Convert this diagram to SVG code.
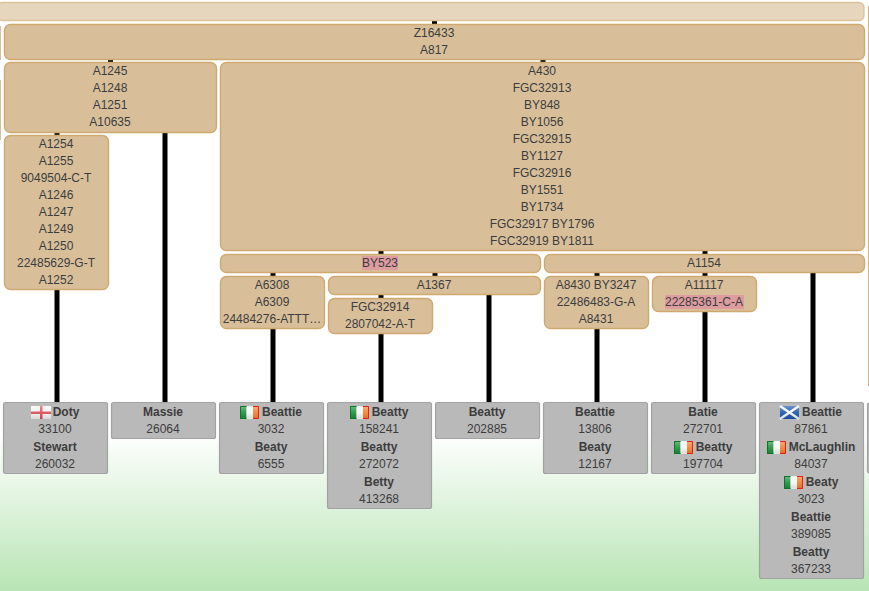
<svg xmlns="http://www.w3.org/2000/svg" width="869" height="591" viewBox="0 0 869 591">
<style>
text{font-family:"Liberation Sans",Arial,sans-serif;font-size:12px;fill:#3d3d3d;text-anchor:middle}
.b{font-weight:bold}
.t{fill:#d8bf9a;stroke:#cfa96f;stroke-width:1.4}
.f{fill:#e6d6bd;stroke:#dcc39c;stroke-width:1.4}
.g{fill:#b9b9b9;stroke:#a2a2a2;stroke-width:1.2}
.h{fill:#dc9ca0}
.c{stroke:#000;fill:none}
.c5{stroke-width:5}
</style>
<defs>
<linearGradient id="bg" x1="0" y1="0" x2="0" y2="1"><stop offset="0" stop-color="#fff"/><stop offset="1" stop-color="#b8e5b4"/></linearGradient>
<linearGradient id="gl" x1="0" y1="0" x2="0" y2="1"><stop offset="0" stop-color="#fff" stop-opacity=".35"/><stop offset=".5" stop-color="#fff" stop-opacity=".1"/><stop offset="1" stop-color="#000" stop-opacity=".12"/></linearGradient>
<g id="ie"><rect x="0" y="0" width="6.5" height="13" fill="#1c8f3c"/><rect x="6.5" y="0" width="6.5" height="13" fill="#f6f6f6"/><rect x="13" y="0" width="6" height="13" fill="#f47f2c"/><rect x=".5" y=".5" width="18" height="12" fill="url(#gl)" stroke="none"/><path d="M.5 .5H6.5M.5 12.5H6.5M.5 .5V12.5" stroke="#0a7a22" fill="none"/><path d="M13 .5H18.500V12.500H13" stroke="#ee1c0c" fill="none"/></g>
<g id="en"><rect width="20" height="13" fill="#f4f2f2"/><rect x="9" width="2.500" height="13" fill="#dc4c52"/><rect y="5.500" width="20" height="2.500" fill="#dc4c52"/><rect width="20" height="13" fill="url(#gl)"/></g>
<g id="sc"><rect width="19" height="13" fill="#1b56ad"/><path d="M0 0L19 13M19 0L0 13" stroke="#f2f5fb" stroke-width="2.500"/><rect width="19" height="13" fill="url(#gl)"/></g>
</defs>
<rect x="0" y="0" width="869" height="591" fill="#fff"/>
<rect x="0" y="432" width="869" height="159" fill="url(#bg)"/>

<g id="connectors" class="c c5">
<path d="M434.500 20V25M110.500 60V63M543 60V63M57 132V136M381 250V255M705 250V255M273 272V277M435 272V277M597 272V277M705 272V277M381 294V299"/>
<path d="M165 132V403M57 289V403M273 328V403M381 333V403M489 294V403M597 328V403M705 311V403M813 272V403"/>
</g>

<g id="edge-left"><path d="M0 26H1V60H0ZM0 80H1V140H0Z" fill="#d8bf9a"/></g>
<g id="edge-right"><path d="M868 6H869V386H868Z" fill="#d8b580"/></g>
<g id="edge-grey"><rect x="867.500" y="403" width="6" height="70" rx="2" class="g"/></g>

<g id="n-top"><rect class="f" x="-3" y="2.500" width="867" height="18" rx="5"/></g>
<g id="n-z16433"><rect class="t" x="4.500" y="24.500" width="860" height="35" rx="6"/><text x="434" y="37">Z16433</text><text x="434" y="54">A817</text></g>
<g id="n-a1245"><rect class="t" x="4.500" y="62.500" width="212" height="70" rx="6"/><text x="110" y="75">A1245</text><text x="110" y="92">A1248</text><text x="110" y="109">A1251</text><text x="110" y="126">A10635</text></g>
<g id="n-a430"><rect class="t" x="220.500" y="62.500" width="644" height="188" rx="6"/>
<text x="542" y="75">A430</text><text x="542" y="92">FGC32913</text><text x="542" y="109">BY848</text><text x="542" y="126">BY1056</text><text x="542" y="143">FGC32915</text><text x="542" y="160">BY1127</text><text x="542" y="177">FGC32916</text><text x="542" y="194">BY1551</text><text x="542" y="211">BY1734</text><text x="542" y="228">FGC32917 BY1796</text><text x="542" y="245">FGC32919 BY1811</text></g>
<g id="n-a1254"><rect class="t" x="4.500" y="135.500" width="104" height="154" rx="6"/>
<text x="56" y="148">A1254</text><text x="56" y="165">A1255</text><text x="56" y="182">9049504-C-T</text><text x="56" y="199">A1246</text><text x="56" y="216">A1247</text><text x="56" y="233">A1249</text><text x="56" y="250">A1250</text><text x="56" y="267">22485629-G-T</text><text x="56" y="284">A1252</text></g>
<g id="n-by523"><rect class="t" x="220.500" y="254.500" width="320" height="18" rx="6"/><rect class="h" x="362" y="256" width="36" height="14"/><text x="380" y="267">BY523</text></g>
<g id="n-a1154"><rect class="t" x="544.500" y="254.500" width="320" height="18" rx="6"/><text x="704" y="267">A1154</text></g>
<g id="n-a6308"><rect class="t" x="220.500" y="276.500" width="104" height="52" rx="6"/><text x="272" y="289">A6308</text><text x="272" y="306">A6309</text><text x="272" y="323">24484276-ATTT…</text></g>
<g id="n-a1367"><rect class="t" x="328.500" y="276.500" width="212" height="18" rx="6"/><text x="434" y="289">A1367</text></g>
<g id="n-fgc32914"><rect class="t" x="328.500" y="298.500" width="104" height="35" rx="6"/><text x="380" y="311">FGC32914</text><text x="380" y="328">2807042-A-T</text></g>
<g id="n-a8430"><rect class="t" x="544.500" y="276.500" width="104" height="52" rx="6"/><text x="596" y="289">A8430 BY3247</text><text x="596" y="306">22486483-G-A</text><text x="596" y="323">A8431</text></g>
<g id="n-a11117"><rect class="t" x="652.500" y="276.500" width="104" height="35" rx="6"/><rect class="h" x="665" y="295" width="79" height="14"/><text x="704" y="289">A11117</text><text x="704" y="306">22285361-C-A</text></g>

<g id="l-1"><rect class="g" x="3.500" y="402.500" width="104" height="71" rx="2"/><use href="#en" x="31" y="406"/><text class="b" x="66" y="416">Doty</text><text x="55" y="433">33100</text><text class="b" x="55" y="451">Stewart</text><text x="55" y="468">260032</text></g>
<g id="l-2"><rect class="g" x="111.500" y="402.500" width="104" height="36" rx="2"/><text class="b" x="163" y="416">Massie</text><text x="163" y="433">26064</text></g>
<g id="l-3"><rect class="g" x="219.500" y="402.500" width="104" height="71" rx="2"/><use href="#ie" x="240" y="406"/><text class="b" x="282" y="416">Beattie</text><text x="271" y="433">3032</text><text class="b" x="271" y="451">Beaty</text><text x="271" y="468">6555</text></g>
<g id="l-4"><rect class="g" x="327.500" y="402.500" width="104" height="106" rx="2"/><use href="#ie" x="350" y="406"/><text class="b" x="390" y="416">Beatty</text><text x="379" y="433">158241</text><text class="b" x="379" y="451">Beatty</text><text x="379" y="468">272072</text><text class="b" x="379" y="486">Betty</text><text x="379" y="503">413268</text></g>
<g id="l-5"><rect class="g" x="435.500" y="402.500" width="104" height="36" rx="2"/><text class="b" x="487" y="416">Beatty</text><text x="487" y="433">202885</text></g>
<g id="l-6"><rect class="g" x="543.500" y="402.500" width="104" height="71" rx="2"/><text class="b" x="595" y="416">Beattie</text><text x="595" y="433">13806</text><text class="b" x="595" y="451">Beaty</text><text x="595" y="468">12167</text></g>
<g id="l-7"><rect class="g" x="651.500" y="402.500" width="104" height="71" rx="2"/><text class="b" x="703" y="416">Batie</text><text x="703" y="433">272701</text><use href="#ie" x="674" y="441"/><text class="b" x="714" y="451">Beatty</text><text x="703" y="468">197704</text></g>
<g id="l-8"><rect class="g" x="759.500" y="402.500" width="104" height="176" rx="2"/><use href="#sc" x="780" y="406"/><text class="b" x="822" y="416">Beattie</text><text x="811" y="433">87861</text><use href="#ie" x="767" y="441"/><text class="b" x="822" y="451">McLaughlin</text><text x="811" y="468">84037</text><use href="#ie" x="784" y="476"/><text class="b" x="822" y="486">Beaty</text><text x="811" y="503">3023</text><text class="b" x="811" y="521">Beattie</text><text x="811" y="538">389085</text><text class="b" x="811" y="556">Beatty</text><text x="811" y="573">367233</text></g>
</svg>
